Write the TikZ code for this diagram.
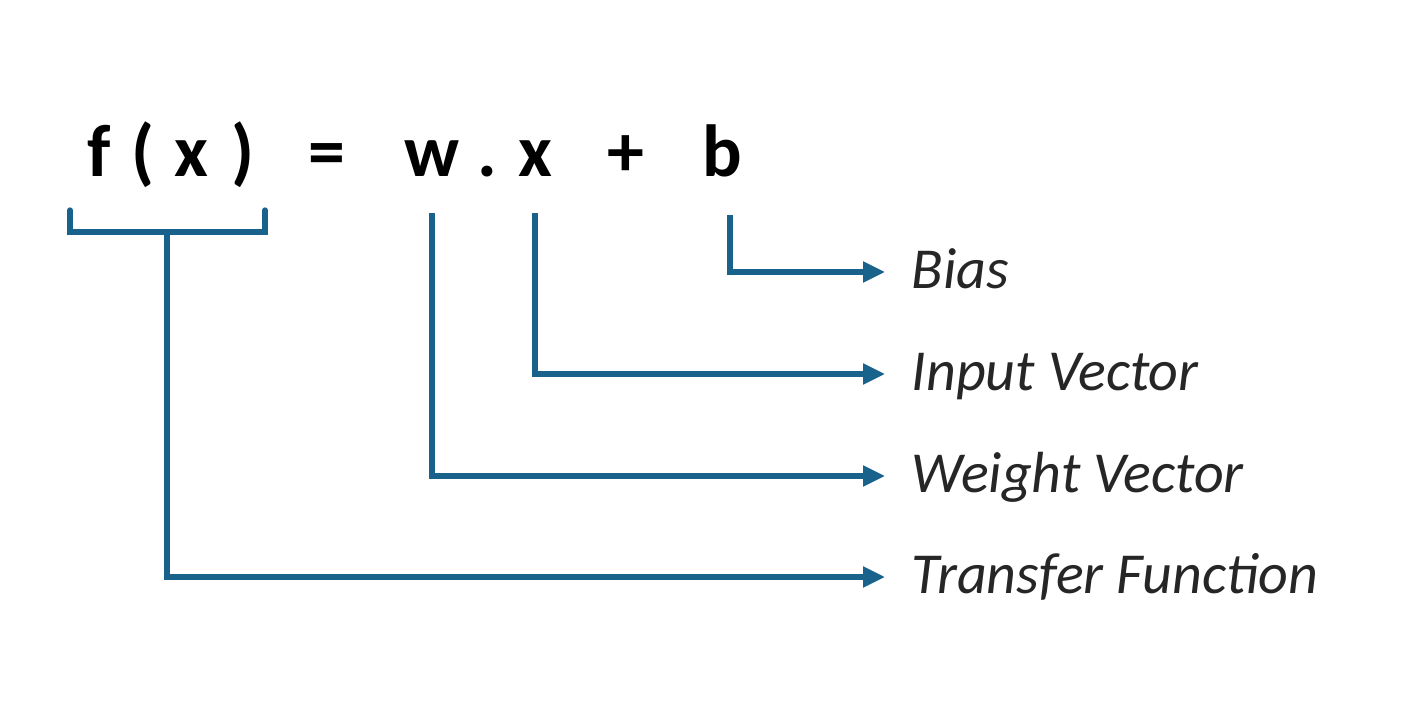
\documentclass[tikz,border=0pt]{standalone}
\usepackage{fontspec}
\setmainfont{Carlito}
\usepackage{xcolor}
\usetikzlibrary{arrows.meta}

\definecolor{linkblue}{RGB}{24,98,140}

\tikzset{
  sym/.style={anchor=base, inner sep=0pt, font=\fontsize{21}{25}\selectfont\bfseries},
  lab/.style={anchor=west, inner xsep=0.26cm, inner ysep=0pt, text height=0.92em, text depth=0pt,
    font=\fontsize{16.5}{19}\selectfont\itshape, text=black!85},
  link/.style={draw=linkblue, line width=1.5pt},
  arr/.style={link, -{Triangle[length=0.22cm, width=0.2cm]}}
}

\begin{document}
\begin{tikzpicture}
\useasboundingbox (0,0) rectangle (14.2,-7.19);

% equation
\node[sym] (f) at (0.99,-1.77) {f};
\node[sym] (lpar) at (1.43,-1.77) {(};
\node[sym] (xin) at (1.91,-1.77) {x};
\node[sym] (rpar) at (2.43,-1.77) {)};
\node[sym] (eq) at (3.27,-1.77) {=};
\node[sym] (w) at (4.32,-1.77) {w};
\node[sym] (dot) at (4.87,-1.77) {.};
\node[sym] (xv) at (5.35,-1.77) {x};
\node[sym] (plus) at (6.26,-1.77) {+};
\node[sym] (b) at (7.22,-1.77) {b};

% labels
\node[lab] (bias) at (8.85,-2.72) {Bias};
\node[lab] (input) at (8.85,-3.74) {Input Vector};
\node[lab] (weight) at (8.85,-4.76) {Weight Vector};
\node[lab] (transfer) at (8.85,-5.77) {Transfer Function};

% brace under f(x)
\coordinate (brl) at (0.70,-2.10);
\coordinate (brr) at (2.65,-2.10);
\coordinate (brm) at (1.67,-2.32);
\draw[link, line cap=round] (brl) -- ++(0,-0.22) -| (brr);

% connectors
\draw[arr] ([xshift=0.08cm,yshift=-0.38cm]b.base) |- (bias.west);
\draw[arr] ([yshift=-0.36cm]xv.base) |- (input.west);
\draw[arr] ([yshift=-0.36cm]w.base) |- (weight.west);
\draw[arr] (brm) |- (transfer.west);

\end{tikzpicture}
\end{document}
